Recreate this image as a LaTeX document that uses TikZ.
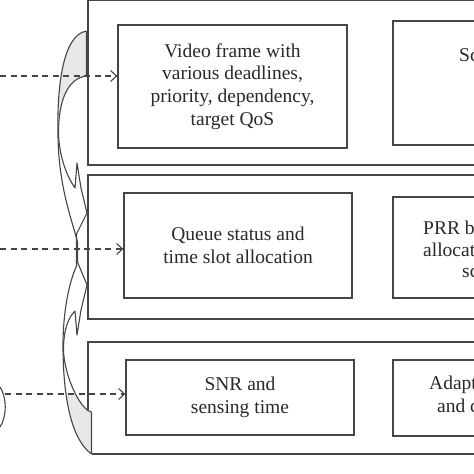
\documentclass[tikz,border=0pt]{standalone}
\usepackage{fontspec}
\setmainfont{Liberation Serif}
\usetikzlibrary{arrows.meta,calc}
\definecolor{LineClr}{rgb}{0.27,0.27,0.27}
\definecolor{TextClr}{rgb}{0.16,0.16,0.16}
\definecolor{LeafClr}{rgb}{0.91,0.91,0.91}

\begin{document}
\begin{tikzpicture}[x=1pt,y=-1pt,
  panel/.style={draw=LineClr,line width=1.4pt},
  box/.style={draw=LineClr,line width=1.3pt,inner sep=0pt},
  txt/.style={text=TextClr,font=\fontsize{19.5}{22.7}\selectfont,align=center},
  cut/.style={text=TextClr,font=\fontsize{19.5}{22.7}\selectfont,anchor=base west,inner sep=0pt},
  feed/.style={draw=LineClr,line width=1.1pt,dash pattern=on 6pt off 4.5pt,
    -{Straight Barb[length=6pt,width=11pt]}},
  twist/.style={draw=LineClr,line width=1.1pt,line join=round}]
\useasboundingbox (0,0) rectangle (474,474);
\clip (0,0) rectangle (474,474);

\fill[LeafClr] (86.5,31) -- (86.5,76) .. controls (68,78) and (58.5,100) .. (58.5,133)
  .. controls (57,90) and (62,35) .. (86.5,31) -- cycle;
\begin{scope}
\clip (40,393) rectangle (100,460);
\fill[LeafClr] (91.5,412) -- (91.5,454) .. controls (72,440) and (63,400) .. (63,345)
  -- (63.5,350) .. controls (64,375) and (80,410) .. (91.5,412) -- cycle;
\end{scope}

\draw[twist] (86.5,31) .. controls (62,35) and (57,90) .. (58,133)
  .. controls (58,185) and (72,220) .. (77.5,242) -- (77.5,262) -- (87,285)
  -- (81,310) -- (77,335) -- (75,311) .. controls (68,318) and (63.5,330) .. (63.5,350)
  .. controls (64,375) and (80,410) .. (91.5,412) -- (91.5,454);
\draw[twist] (86.5,31) -- (86.5,76) .. controls (68,78) and (58.5,100) .. (58.5,133)
  .. controls (59,155) and (66,175) .. (75,188) -- (77,163) -- (81,188) -- (87,213)
  -- (76.5,234) -- (76.5,266) .. controls (68,285) and (63,315) .. (63,345)
  .. controls (63,400) and (72,440) .. (91.5,454);
\draw[twist] (0,387) .. controls (7,397) and (7,417) .. (0,427);

\draw[panel] (520,0) -- (88,0) -- (88,165) -- (520,165);
\draw[panel] (520,175) -- (88,175) -- (88,319) -- (520,319);
\draw[panel] (520,342) -- (88,342) -- (88,410);
\draw[panel] (91.5,454) -- (520,454);

\node[box,txt,minimum width=229pt,minimum height=123pt] (video) at (232.5,86.5)
  {Video frame with\\various deadlines,\\priority, dependency,\\target QoS};
\node[box,txt,minimum width=228pt,minimum height=105pt] (queue) at (238,245.5)
  {Queue status and\\time slot allocation};
\node[box,txt,minimum width=228pt,minimum height=75pt] (snr) at (240,397.5)
  {SNR and\\sensing time};

\node[box,minimum width=230pt,minimum height=124pt] (sched) at (508,83) {};
\node[box,minimum width=230pt,minimum height=101pt] (prr) at (508,247.5) {};
\node[box,minimum width=230pt,minimum height=76pt] (adapt) at (508,398) {};

\node[cut] (sched1) at (459,61) {Scheduling};
\node[cut] (prr1) at (423,234) {PRR based};
\node[cut] (prr2) at (423,256) {allocation};
\node[cut] (prr3) at (462,277) {scheme};
\node[cut] (adapt1) at (429,389) {Adaptive modulation};
\node[cut] (adapt2) at (437,412) {and coding};

\coordinate (in1) at (0,76);
\coordinate (in2) at (0,249);
\coordinate (in3) at (5,394);
\draw[feed] (in1) -- (in1 -| video.west);
\draw[feed] (in2) -- (in2 -| queue.west);
\draw[feed] (in3) -- (in3 -| snr.west);

\end{tikzpicture}
\end{document}
